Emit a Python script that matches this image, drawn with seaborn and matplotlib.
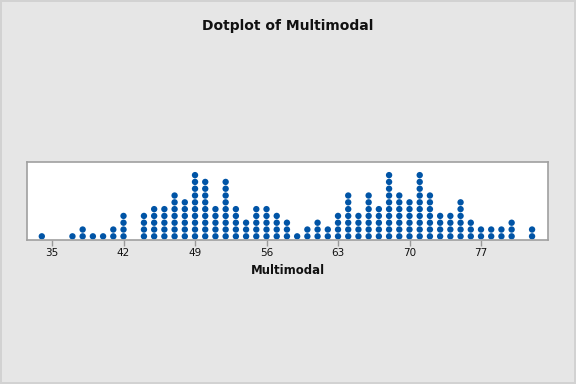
import matplotlib
matplotlib.use("Agg")
import matplotlib.pyplot as plt
import seaborn as sns
import pandas as pd

# Data: value bins and number of dots stacked at each
values = [34, 37, 38, 39, 40, 41, 42, 44, 45, 46, 47, 48, 49, 50, 51, 52, 53, 54,
          55, 56, 57, 58, 59, 60, 61, 62, 63, 64, 65, 66, 67, 68, 69, 70, 71, 72,
          73, 74, 75, 76, 77, 78, 79, 80, 82]
counts = [1, 1, 2, 1, 1, 2, 4, 4, 5, 5, 7, 6, 10, 9, 5, 9, 5, 3,
          5, 5, 4, 3, 1, 2, 3, 2, 4, 7, 4, 7, 5, 10, 7, 6, 10, 7,
          4, 4, 6, 3, 2, 2, 2, 3, 2]
tick_values = [35, 42, 49, 56, 63, 70, 77]
title = "Dotplot of Multimodal"
xlabel = "Multimodal"

rows = []
for v, c in zip(values, counts):
    for k in range(c):
        rows.append({"Multimodal": v, "level": k})
df = pd.DataFrame(rows)

sns.set_theme(style="white")
plt.rcParams["font.family"] = ["DejaVu Sans"]

fig = plt.figure(figsize=(5.76, 3.84), dpi=100)
fig.patch.set_facecolor("#e6e6e6")
fig.patch.set_edgecolor("#d2d2d2")
fig.patch.set_linewidth(1.5)

ax = fig.add_axes([27 / 576, 1 - 240 / 384, (548 - 27) / 576, (240 - 162) / 384])
ax.set_facecolor("white")

sns.scatterplot(data=df, x="Multimodal", y="level", ax=ax, color="#0054a6",
                s=21, edgecolor="none", linewidth=0, legend=False)

ax.set_xlim(32.55, 83.56)
ax.set_ylim(-0.54, 10.93)
ax.set_xticks(tick_values)
ax.set_xticklabels([str(t) for t in tick_values], fontsize=7.5, color="#111111")
ax.set_yticks([])
ax.set_ylabel("")
ax.set_xlabel(xlabel, fontsize=8.5, fontweight="semibold", color="#111111", labelpad=4)
ax.tick_params(axis="x", bottom=True, direction="out", length=4, width=1,
               color="#999999", pad=2)
for sp in ax.spines.values():
    sp.set_visible(True)
    sp.set_color("#a0a0a0")
    sp.set_linewidth(1.2)

fig.text(0.5, 1 - 26 / 384, title, ha="center", va="center",
         fontsize=10, fontweight="bold", color="#111111")

fig.savefig("out.png", dpi=100, facecolor=fig.get_facecolor(), edgecolor=fig.get_edgecolor())
